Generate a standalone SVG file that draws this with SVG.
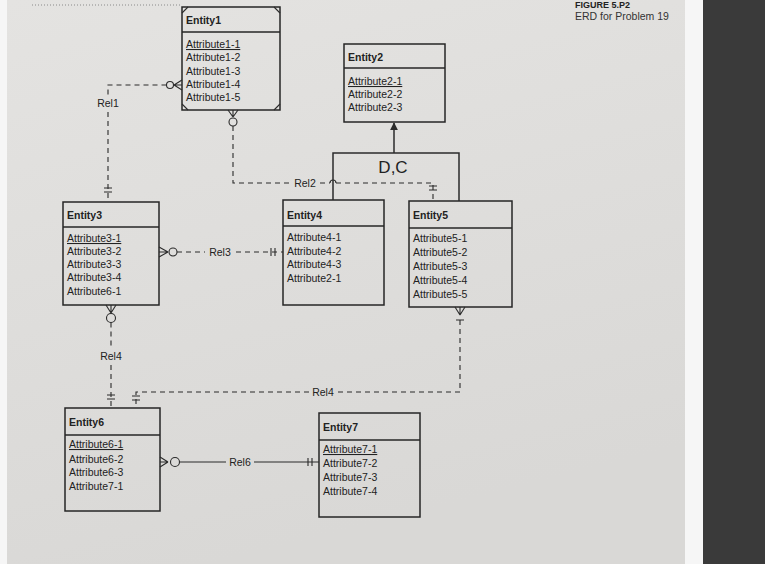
<svg xmlns="http://www.w3.org/2000/svg" width="765" height="564" viewBox="0 0 765 564">
<defs>
<linearGradient id="pg" x1="0" y1="0" x2="0.3" y2="1">
<stop offset="0" stop-color="#e4e3e1"/>
<stop offset="1" stop-color="#d9d8d6"/>
</linearGradient>
<marker id="arr" viewBox="0 0 10 10" refX="9" refY="5" markerWidth="8" markerHeight="8" markerUnits="userSpaceOnUse" orient="auto">
<path d="M0,0 L10,5 L0,10 Z" fill="#2b2b2b"/>
</marker>
<style>
.box{fill:none;stroke:#262626;stroke-width:1.5}
.ln{fill:none;stroke:#2b2b2b;stroke-width:1.1}
.dash{stroke-dasharray:5 4}
.t{font-family:"Liberation Sans",Arial,sans-serif;font-size:10.5px;fill:#222}
.h{font-weight:bold;font-size:10.5px}
.u{text-decoration:underline}
</style>
</defs>
<rect x="0" y="0" width="765" height="564" fill="#f6f6f6"/>
<rect x="7" y="0" width="678" height="564" fill="url(#pg)"/>
<rect x="703" y="0" width="62" height="564" fill="#3a3a3a"/>
<path d="M32,5 H180" stroke="#8a8a8a" stroke-width="1" stroke-dasharray="1 2"/>
<text class="t" x="575" y="8" style="font-weight:bold;font-size:9px">FIGURE 5.P2</text>
<text class="t" x="575" y="20" style="fill:#333">ERD for Problem 19</text>

<g id="Entity1">
<rect class="box" x="182" y="7" width="98" height="103"/>
<line class="box" x1="182" y1="32" x2="280" y2="32"/>
<path class="ln" d="M182,13 L188,7 M274,7 L280,13 M182,104 L188,110 M274,110 L280,104"/>
<text class="t h" x="186" y="24">Entity1</text>
<text class="t u" x="186" y="48">Attribute1-1</text>
<text class="t" x="186" y="61">Attribute1-2</text>
<text class="t" x="186" y="75">Attribute1-3</text>
<text class="t" x="186" y="88">Attribute1-4</text>
<text class="t" x="186" y="101">Attribute1-5</text>
</g>

<g id="Entity2">
<rect class="box" x="344" y="44" width="101" height="78"/>
<line class="box" x1="344" y1="68" x2="445" y2="68"/>
<text class="t h" x="348" y="61">Entity2</text>
<text class="t u" x="348" y="85">Attribute2-1</text>
<text class="t" x="348" y="98">Attribute2-2</text>
<text class="t" x="348" y="111">Attribute2-3</text>
</g>

<g id="Entity3">
<rect class="box" x="63" y="202" width="96" height="103"/>
<line class="box" x1="63" y1="227" x2="159" y2="227"/>
<text class="t h" x="67" y="219">Entity3</text>
<text class="t u" x="67" y="242">Attribute3-1</text>
<text class="t" x="67" y="255">Attribute3-2</text>
<text class="t" x="67" y="268">Attribute3-3</text>
<text class="t" x="67" y="281">Attribute3-4</text>
<text class="t" x="67" y="295">Attribute6-1</text>
</g>

<g id="Entity4">
<rect class="box" x="283" y="200" width="101" height="105"/>
<line class="box" x1="283" y1="226" x2="384" y2="226"/>
<text class="t h" x="287" y="219">Entity4</text>
<text class="t" x="287" y="241">Attribute4-1</text>
<text class="t" x="287" y="255">Attribute4-2</text>
<text class="t" x="287" y="268">Attribute4-3</text>
<text class="t" x="287" y="282">Attribute2-1</text>
</g>

<g id="Entity5">
<rect class="box" x="409" y="201" width="103" height="106"/>
<line class="box" x1="409" y1="228" x2="512" y2="228"/>
<text class="t h" x="413" y="219">Entity5</text>
<text class="t" x="413" y="242">Attribute5-1</text>
<text class="t" x="413" y="256">Attribute5-2</text>
<text class="t" x="413" y="270">Attribute5-3</text>
<text class="t" x="413" y="284">Attribute5-4</text>
<text class="t" x="413" y="298">Attribute5-5</text>
</g>

<g id="Entity6">
<rect class="box" x="65" y="408" width="95" height="103"/>
<line class="box" x1="65" y1="435" x2="160" y2="435"/>
<text class="t h" x="69" y="426">Entity6</text>
<text class="t u" x="69" y="448">Attribute6-1</text>
<text class="t" x="69" y="463">Attribute6-2</text>
<text class="t" x="69" y="476">Attribute6-3</text>
<text class="t" x="69" y="490">Attribute7-1</text>
</g>

<g id="Entity7">
<rect class="box" x="319" y="413" width="101" height="104"/>
<line class="box" x1="319" y1="440" x2="420" y2="440"/>
<text class="t h" x="323" y="431">Entity7</text>
<text class="t u" x="323" y="453">Attribute7-1</text>
<text class="t" x="323" y="467">Attribute7-2</text>
<text class="t" x="323" y="481">Attribute7-3</text>
<text class="t" x="323" y="495">Attribute7-4</text>
</g>

<g id="connectors">
<!-- Rel1 -->
<path class="ln" d="M174,85 L182,80 M174,85 L182,85 M174,85 L182,90"/>
<circle class="ln" cx="170" cy="85" r="3.5"/>
<path class="ln dash" d="M166.5,85 H108 V95"/>
<text class="t" x="108" y="107" text-anchor="middle">Rel1</text>
<path class="ln dash" d="M108,112 V202"/>
<path class="ln" d="M104,188 H112 M104,192 H112"/>

<!-- Rel2 -->
<path class="ln" d="M233,117 L228,110 M233,117 L233,110 M233,117 L238,110"/>
<circle class="ln" cx="233" cy="122" r="4"/>
<path class="ln dash" d="M233,126 V183 H290"/>
<text class="t" x="305" y="187" text-anchor="middle">Rel2</text>
<path class="ln dash" d="M320,183 H330"/>
<path class="ln" d="M330,183 A3,3 0 0 1 336,183"/>
<path class="ln dash" d="M336,183 H433 V201"/>
<path class="ln" d="M429,186 H437 M429,190 H437"/>

<!-- Generalization D,C -->
<path class="ln" style="stroke-width:1.5" d="M333,200 V153 H459 V201"/>
<line class="ln" style="stroke-width:1.5" x1="394" y1="153" x2="394" y2="123" marker-end="url(#arr)"/>
<text class="t" x="393" y="173" text-anchor="middle" style="font-size:17px">D,C</text>

<!-- Rel3 -->
<path class="ln" d="M168,252 L159,247 M168,252 L159,252 M168,252 L159,257"/>
<circle class="ln" cx="173" cy="252" r="4"/>
<path class="ln dash" d="M177,252 H205"/>
<text class="t" x="220" y="256" text-anchor="middle">Rel3</text>
<path class="ln dash" d="M236,252 H283"/>
<path class="ln" d="M271,248 V256 M275,248 V256"/>

<!-- Rel4 (Entity3 - Entity6) -->
<path class="ln" d="M111,313 L106,305 M111,313 L111,305 M111,313 L116,305"/>
<circle class="ln" cx="111" cy="318" r="4.5"/>
<path class="ln dash" d="M111,322.5 V347"/>
<text class="t" x="111" y="360" text-anchor="middle">Rel4</text>
<path class="ln dash" d="M111,365 V408"/>
<path class="ln" d="M107,395 H115 M107,399 H115"/>

<!-- Rel4 (Entity5 - Entity6) -->
<path class="ln" d="M460,315 L455,307 M460,315 L460,307 M460,315 L465,307 M456,320 H464"/>
<path class="ln dash" d="M460,320 V392 H337"/>
<text class="t" x="323" y="396" text-anchor="middle">Rel4</text>
<path class="ln dash" d="M309,392 H136 V408"/>
<path class="ln" d="M132,396 H140 M132,400 H140"/>

<!-- Rel6 -->
<path class="ln" d="M168,462 L160,457 M168,462 L160,462 M168,462 L160,467"/>
<circle class="ln" cx="175" cy="462" r="4.5"/>
<path class="ln" d="M179.5,462 H226 M254,462 H319"/>
<text class="t" x="240" y="466" text-anchor="middle">Rel6</text>
<path class="ln" d="M308,458 V466 M312,458 V466"/>
</g>
</svg>
